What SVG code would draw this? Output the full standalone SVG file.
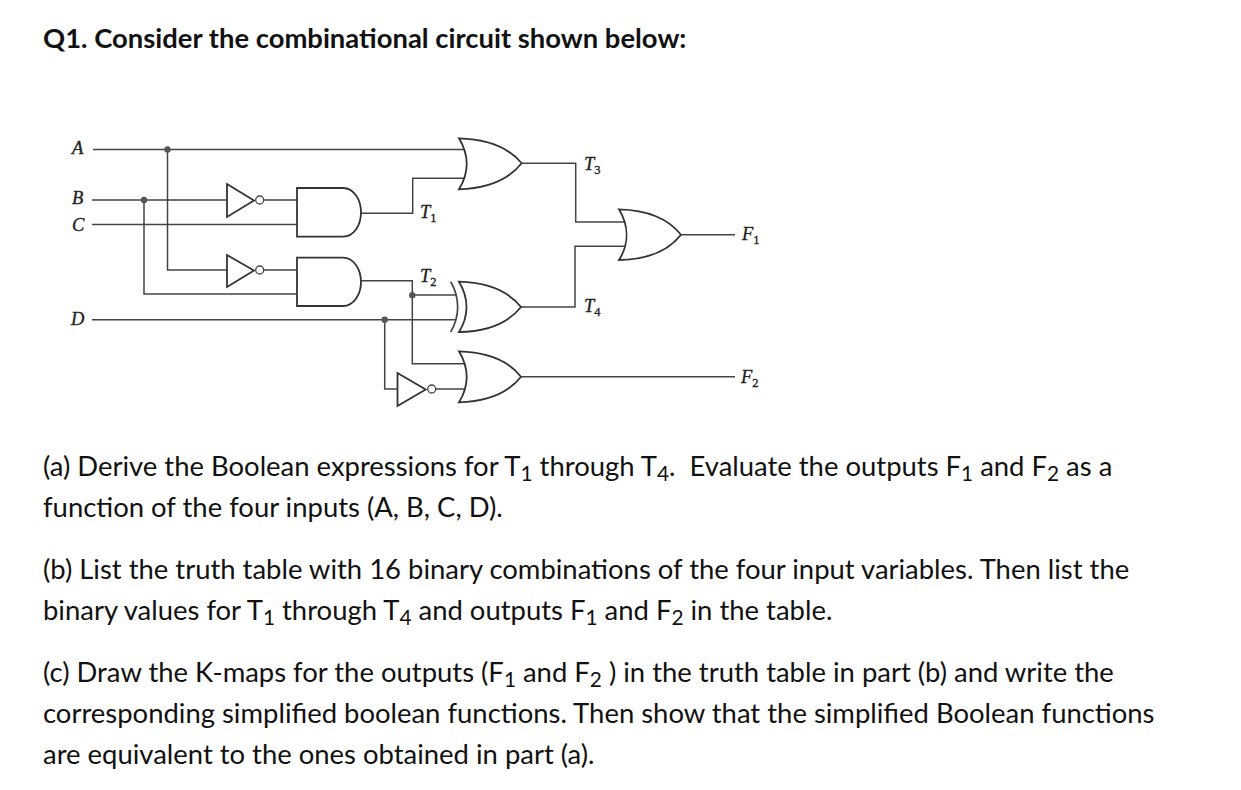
<svg xmlns="http://www.w3.org/2000/svg" width="1241" height="790" viewBox="0 0 1241 790">
<style>
.w{fill:none;stroke:#444;stroke-width:1.5}
.g{fill:#fff;stroke:#333;stroke-width:1.8}
.d{fill:#555}
.b{fill:#fff;stroke:#444;stroke-width:1.3}
.l{font-family:"Liberation Serif",serif;font-style:italic;font-size:18.5px;fill:#222;stroke:#222;stroke-width:.35}
.s{font-style:normal;font-size:12.5px}
.t{font-family:Lato,"Noto Sans",sans-serif;font-size:27.44px;fill:#111;white-space:pre}
.h{font-weight:bold;font-size:27.42px}
.u{font-size:20.8px}
</style>
<rect width="1241" height="790" fill="#fff"/>
<text class="t h" x="43" y="48">Q1. Consider the combinational circuit shown below:</text>
<g id="connectors">
<path class="w" d="M93 149.5H467M167.5 149.5V270H227"/>
<path class="w" d="M92 200H227M144 200V294H297M92 224.5H297"/>
<path class="w" d="M264 200H297M264 270H297"/>
<path class="w" d="M361 213.3H412.7V178.3H467M361 280.7H412.3V363.7H467M412.3 295H456"/>
<path class="w" d="M92 319.7H456M384.7 319.7V389H398M436 389H467"/>
<path class="w" d="M521.7 163.3H575.7V222H627M521 307H575V246.3H627M681 234.7H735M521 376.7H735"/>
<circle class="d" cx="167.5" cy="149.5" r="3.2"/>
<circle class="d" cx="144" cy="200" r="3.2"/>
<circle class="d" cx="412.3" cy="295.3" r="3.2"/>
<circle class="d" cx="384.7" cy="319.7" r="3.2"/>
</g>
<g id="not1"><path class="g" d="M227 184L254 200.5L227 217Z"/><circle class="b" cx="259.7" cy="200" r="4"/></g>
<g id="not2"><path class="g" d="M227 255L254 270.5L227 287Z"/><circle class="b" cx="259.7" cy="270" r="4"/></g>
<g id="not3"><path class="g" d="M397.5 373L425.7 389.5L397.5 406Z"/><circle class="b" cx="431.7" cy="389" r="4"/></g>
<g id="and1"><path class="g" d="M297 188H343C354 188 361 200 361 212.5C361 225 354 236.7 343 236.7H297Z"/></g>
<g id="and2"><path class="g" d="M297 257.7H343C354 257.7 361 270 361 282C361 294 354 306 343 306H297Z"/></g>
<g id="or1"><path class="g" d="M459 138.3C488 139 509 148 521.7 163.3C509 179 488 188.5 459 189.3C469 173 469 155 459 138.3Z"/></g>
<g id="xor1"><path class="g" d="M459 281.7C488 282.5 509 292 521 307C509 322 488 331.5 459 332C469 316 469 298 459 281.7Z"/><path class="w" d="M450.7 281.7C460 298 460 316 450.7 332" style="stroke-width:1.7"/></g>
<g id="or2"><path class="g" d="M459 351.3C488 352 509 361.5 521 376.7C509 392 488 401.5 459 402.3C469 386 469 368 459 351.3Z"/></g>
<g id="or3"><path class="g" d="M619 209.3C648 210 669 219.5 681 234.7C669 250 648 259.5 619 260C629 244 629 226 619 209.3Z"/></g>
<g id="labels">
<text class="l" x="72" y="154">A</text>
<text class="l" x="72" y="204">B</text>
<text class="l" x="72" y="231">C</text>
<text class="l" x="71" y="325">D</text>
<text class="l" x="420" y="218">T<tspan class="s" dy="4">1</tspan></text>
<text class="l" x="420" y="282">T<tspan class="s" dy="4">2</tspan></text>
<text class="l" x="584" y="170">T<tspan class="s" dy="4">3</tspan></text>
<text class="l" x="584" y="312">T<tspan class="s" dy="4">4</tspan></text>
<text class="l" x="742" y="240">F<tspan class="s" dy="4">1</tspan></text>
<text class="l" x="741" y="383">F<tspan class="s" dy="4">2</tspan></text>
</g>
<text class="t" x="43" y="476">(a) Derive the Boolean expressions for T<tspan class="u" dy="5">1</tspan><tspan dy="-5"> through T</tspan><tspan class="u" dy="5">4</tspan><tspan dy="-5">.  Evaluate the outputs F</tspan><tspan class="u" dy="5">1</tspan><tspan dy="-5"> and F</tspan><tspan class="u" dy="5">2</tspan><tspan dy="-5"> as a</tspan></text>
<text class="t" x="43" y="517">function of the four inputs (A, B, C, D).</text>
<text class="t" x="43" y="579">(b) List the truth table with 16 binary combinations of the four input variables. Then list the</text>
<text class="t" x="43" y="620">binary values for T<tspan class="u" dy="5">1</tspan><tspan dy="-5"> through T</tspan><tspan class="u" dy="5">4</tspan><tspan dy="-5"> and outputs F</tspan><tspan class="u" dy="5">1</tspan><tspan dy="-5"> and F</tspan><tspan class="u" dy="5">2</tspan><tspan dy="-5"> in the table.</tspan></text>
<text class="t" x="43" y="682">(c) Draw the K-maps for the outputs (F<tspan class="u" dy="5">1</tspan><tspan dy="-5"> and F</tspan><tspan class="u" dy="5">2</tspan><tspan dy="-5"> ) in the truth table in part (b) and write the</tspan></text>
<text class="t" x="43" y="723">corresponding simplified boolean functions. Then show that the simplified Boolean functions</text>
<text class="t" x="43" y="764">are equivalent to the ones obtained in part (a).</text>
</svg>
